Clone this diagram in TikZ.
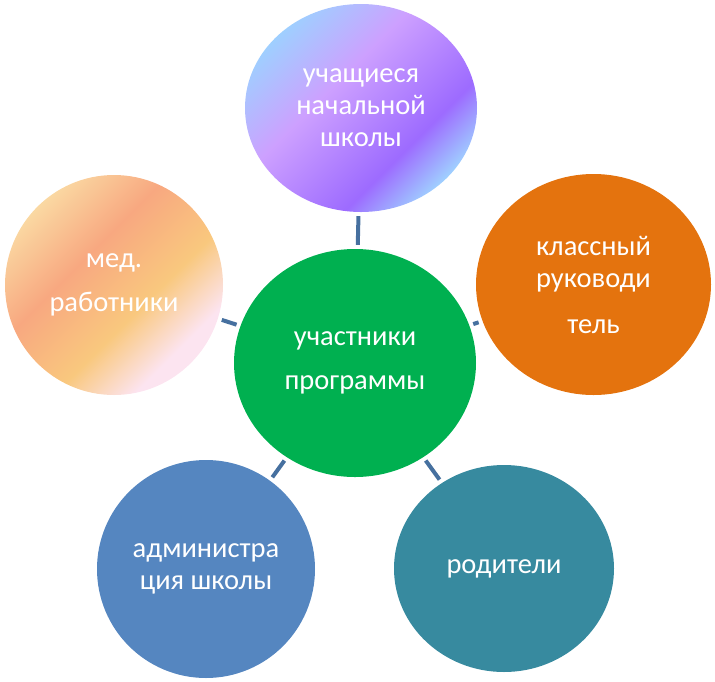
\documentclass[tikz,border=0pt]{standalone}
\usepackage{fontspec}
\setmainfont{Carlito}
\usetikzlibrary{shapes.geometric}

\definecolor{hubGreen}{HTML}{00B050}
\definecolor{tutorOrange}{HTML}{E4730E}
\definecolor{adminBlue}{HTML}{5586C0}
\definecolor{parentTeal}{HTML}{378A9F}
\definecolor{linkBlue}{HTML}{46709F}
\definecolor{pupilSky}{HTML}{9FCFFF}
\definecolor{pupilLilac}{HTML}{CDA0FF}
\definecolor{pupilViolet}{HTML}{9D6BFF}
\definecolor{medSand}{HTML}{FAD8A2}
\definecolor{medSalmon}{HTML}{F8A880}
\definecolor{medApricot}{HTML}{F9C87E}
\definecolor{medBlush}{HTML}{FCE4F0}

\pgfdeclarehorizontalshading{pupilshade}{100bp}{color(0bp)=(pupilSky); color(25bp)=(pupilSky); color(42bp)=(pupilLilac); color(64bp)=(pupilViolet); color(75bp)=(pupilSky); color(100bp)=(pupilSky)}
\pgfdeclarehorizontalshading{medshade}{100bp}{color(0bp)=(medSand); color(25bp)=(medSand); color(41bp)=(medSalmon); color(58bp)=(medApricot); color(71bp)=(medBlush); color(100bp)=(medBlush)}

\begin{document}
\begin{tikzpicture}[x=1pt, y=-1pt,
	member/.style={ellipse, inner sep=0pt, align=center, text=white, font=\fontsize{28.5}{32}\selectfont},
	link/.style={line width=4pt, draw=linkBlue, shorten >=4pt, shorten <=4pt}]
\useasboundingbox (0,0) rectangle (715,681);

% Draw members
\node[member, fill=hubGreen, minimum width=242pt, minimum height=228pt] (hub) at (355,363) {участники\\[12pt]программы};
\node[member, shading=pupilshade, shading angle=-45, minimum width=232pt, minimum height=208pt] (pupils) at (361,108) {учащиеся\\начальной\\школы};
\node[member, fill=tutorOrange, minimum width=235pt, minimum height=221pt] (tutor) at (593.5,284.5) {классный\\руководи\\[14pt]тель};
\node[member, shading=medshade, shading angle=-45, minimum width=218pt, minimum height=220pt] (medics) at (114,285) {мед.\\[12pt]работники};
\node[member, fill=adminBlue, minimum width=218pt, minimum height=218pt] (admin) at (206,569) {администра\\ция школы};
\node[member, fill=parentTeal, minimum width=220pt, minimum height=207pt] (parents) at (504,568.5) {родители};

% Draw links
\foreach \m in {pupils, tutor, medics, admin, parents}
	\draw[link] (hub) -- (\m);
\end{tikzpicture}
\end{document}
